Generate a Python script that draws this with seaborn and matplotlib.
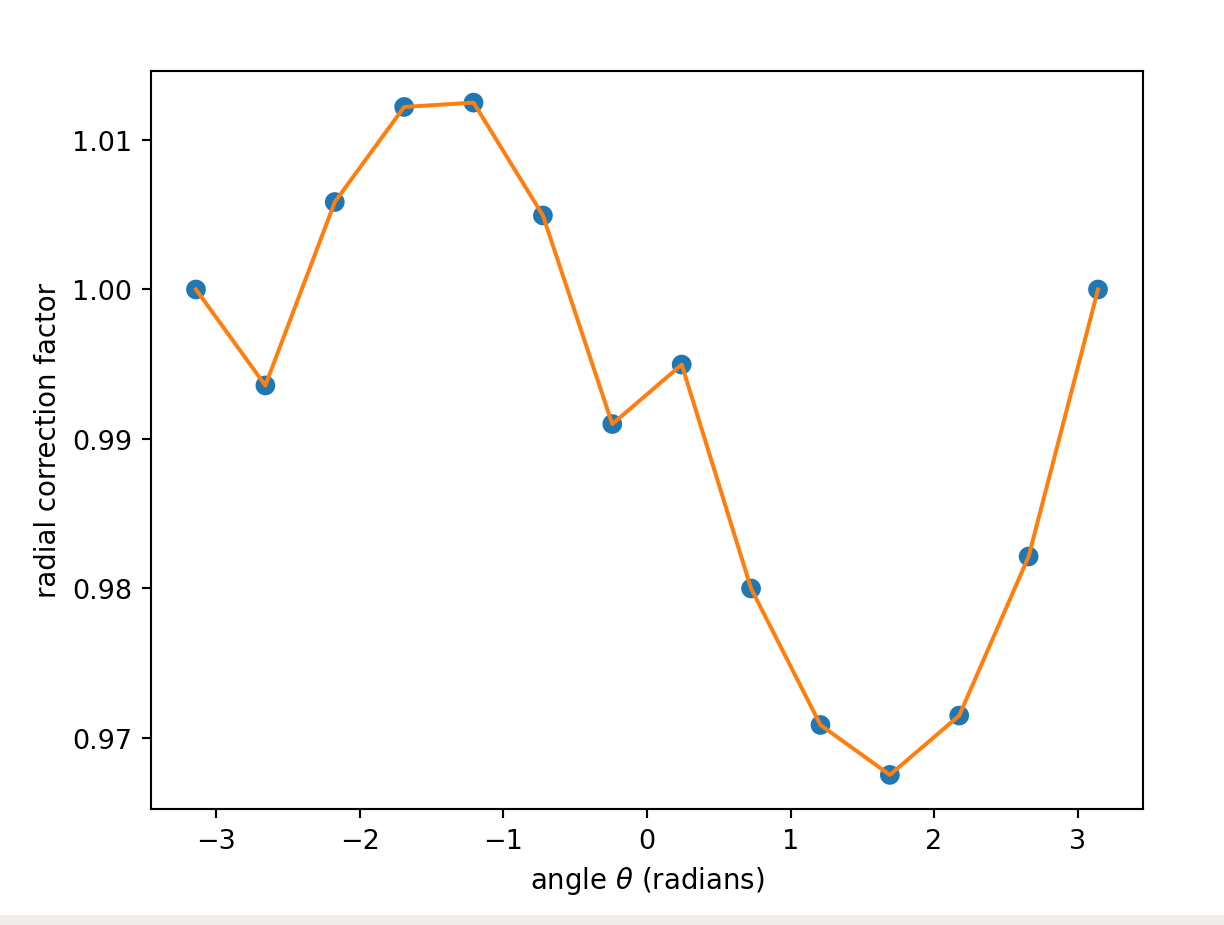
import matplotlib
matplotlib.use("Agg")
import matplotlib.pyplot as plt
from matplotlib.patches import Rectangle
import numpy as np
import pandas as pd
import seaborn as sns

# angles sampled evenly over [-pi, pi], 14 points
angle = [-3.1416, -2.6583, -2.1749, -1.6916, -1.2083, -0.7250, -0.2417,
         0.2417, 0.7250, 1.2083, 1.6916, 2.1749, 2.6583, 3.1416]
factor = [1.0000, 0.99358, 1.00585, 1.01221, 1.01250, 1.00495, 0.99100,
          0.99498, 0.98000, 0.97087, 0.96753, 0.97150, 0.98214, 1.0000]

df = pd.DataFrame({"angle": angle, "factor": factor})

W, H, DPI = 1224, 926, 191.25
fig = plt.figure(figsize=(W / DPI, H / DPI), dpi=DPI)
ax = fig.add_axes([151 / W, 1 - 810 / H, (1143 - 151) / W, (810 - 72) / H])

sns.scatterplot(data=df, x="angle", y="factor", color="C0", s=55,
                edgecolor="none", ax=ax, zorder=2)
sns.lineplot(data=df, x="angle", y="factor", color="C1", linewidth=1.5,
             ax=ax, zorder=3)

ax.set_xlabel(r"angle $\theta$ (radians)", fontsize=10.4)
ax.set_ylabel("radial correction factor", fontsize=10.4)
ax.set_yticks([0.97, 0.98, 0.99, 1.00, 1.01])
ax.set_xticks([-3, -2, -1, 0, 1, 2, 3])
ax.set_xticklabels(["\u22123", "\u22122", "\u22121", "0", "1", "2", "3"])
ax.tick_params(labelsize=10.2)
ax.set_xlim(-3.455, 3.455)
ax.set_ylim(0.96525, 1.014615)

# light strip along the bottom edge of the screenshot
fig.patches.append(Rectangle((0, 0), 1, (H - 916) / H, transform=fig.transFigure,
                             facecolor="#f0ece8", edgecolor="none", zorder=-1))

fig.savefig("out.png", dpi=DPI)
